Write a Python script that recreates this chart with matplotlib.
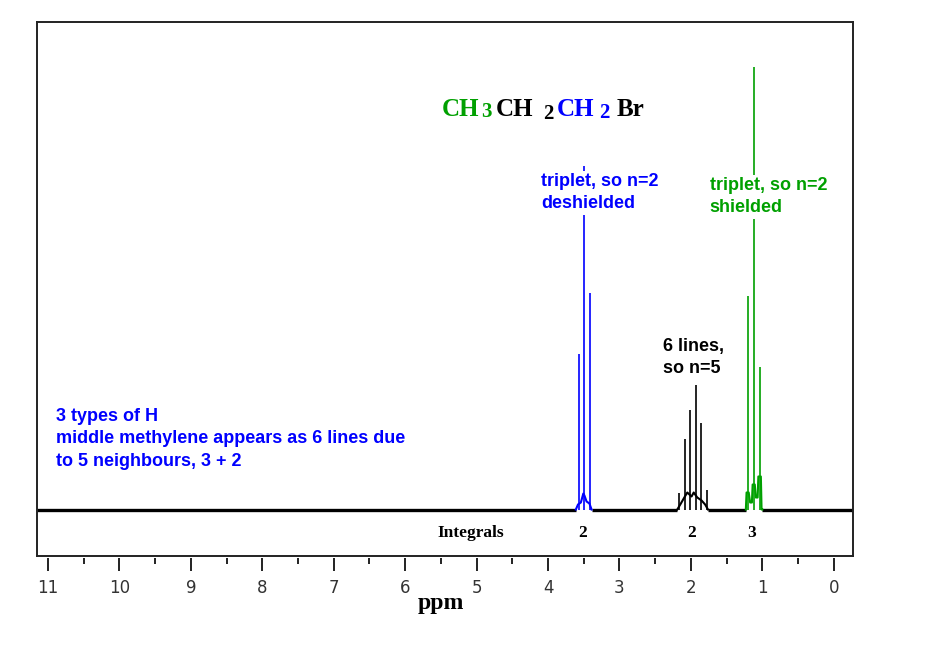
import matplotlib.pyplot as plt
from matplotlib.ticker import FixedLocator

# peak lists: chemical shift (ppm) and intensity (arbitrary units, baseline = 0)
blue_ppm = [3.571, 3.497, 3.417]
blue_h = [156, 344, 217]
blue_env_ppm = [3.61, 3.58, 3.54, 3.505, 3.49, 3.46, 3.42, 3.39]
blue_env_h = [0, 5, 7, 16, 14, 8, 6, 0]

black_ppm = [2.164, 2.088, 2.014, 1.934, 1.860, 1.780]
black_h = [17, 71, 100, 125, 87, 20]
black_env_ppm = [2.19, 2.14, 2.10, 2.05, 1.99, 1.96, 1.91, 1.85, 1.80, 1.76]
black_env_h = [0, 6, 11, 17, 13, 17, 12, 9, 5, 0]

green_ppm = [1.199, 1.123, 1.035]
green_h = [214, 443, 143]
green_env_ppm = [1.23, 1.22, 1.19, 1.17, 1.145, 1.135, 1.105, 1.09, 1.065, 1.055, 1.02, 1.01, 1.0]
green_env_h = [0, 17, 17, 7, 7, 25, 25, 12, 12, 33, 33, 0, 0]

integral_ppm = [3.52, 1.99, 1.15]
integral_txt = ['2', '2', '3']

major_ticks = [0, 1, 2, 3, 4, 5, 6, 7, 8, 9, 10, 11]
minor_ticks = [0.5, 1.5, 2.5, 3.5, 4.5, 5.5, 6.5, 7.5, 8.5, 9.5, 10.5]

xlim = (11.154, -0.27)
ylim = (-46.5, 487.5)

BLUE = '#0000ff'
GREEN = '#00a000'

W, H = 949, 659
fig = plt.figure(figsize=(W / 100, H / 100), dpi=100)
ax = fig.add_axes([37 / W, 1 - 556 / H, (853 - 37) / W, (556 - 22) / H])
ax.set_xlim(*xlim)
ax.set_ylim(*ylim)
ax.set_xticks([])
ax.set_yticks([])
for s in ax.spines.values():
    s.set_linewidth(1.4)
    s.set_color('#222222')

# baseline between the multiplets
edges = [xlim[0], blue_env_ppm[0], blue_env_ppm[-1], black_env_ppm[0],
         black_env_ppm[-1], green_env_ppm[0], green_env_ppm[-1], xlim[1]]
for a, b in zip(edges[::2], edges[1::2]):
    ax.plot([a, b], [0, 0], color='black', lw=2.4, solid_capstyle='butt')

for pp, hh, ep, eh, c in [(blue_ppm, blue_h, blue_env_ppm, blue_env_h, BLUE),
                          (black_ppm, black_h, black_env_ppm, black_env_h, 'black'),
                          (green_ppm, green_h, green_env_ppm, green_env_h, GREEN)]:
    ax.plot(ep, eh, color=c, lw=1.5)
    ax.vlines(pp, 0, hh, color=c, lw=1.2)

# tick marks sit just below the frame
sec = ax.secondary_xaxis(-0.0037)
for s in sec.spines.values():
    s.set_visible(False)
sec.xaxis.set_major_locator(FixedLocator(major_ticks))
sec.xaxis.set_minor_locator(FixedLocator(minor_ticks))
sec.tick_params(which='major', length=9.5, width=1.4, color='#222222', pad=5.5,
                labelsize=12, labelcolor='#333333')
sec.tick_params(which='minor', length=4.5, width=1.4, color='#222222')

sans = dict(family='Liberation Sans', fontweight='bold', fontsize=13)
box = dict(facecolor='white', edgecolor='none', pad=2)

ax.text(4.098, 336, 'triplet, so n=2\ndeshielded', color=BLUE, va='top', ha='left',
        bbox=box, linespacing=1.38, zorder=5, **sans)
ax.text(1.734, 332, 'triplet, so n=2\nshielded', color=GREEN, va='top', ha='left',
        bbox=box, linespacing=1.38, zorder=5, **sans)
ax.text(2.392, 171.5, '6 lines,\nso n=5', color='black', va='top', ha='left',
        linespacing=1.38, zorder=5, **sans)
ax.text(10.895, 101.5, '3 types of H\nmiddle methylene appears as 6 lines due\nto 5 neighbours, 3 + 2',
        color=BLUE, va='top', ha='left', linespacing=1.42, zorder=5, **sans)

serif = dict(family='Liberation Serif', fontweight='bold')
ax.text(5.55, -27.5, 'Integrals', va='baseline', ha='left', fontsize=12.5, **serif)
for p, t in zip(integral_ppm, integral_txt):
    ax.text(p, -27.5, t, va='baseline', ha='center', fontsize=12.5, **serif)


def ftext(px, py, s, **kw):
    fig.text(px / W, 1 - py / H, s, va='baseline', ha='left', **serif, **kw)


ftext(441.7, 116, 'CH', color=GREEN, fontsize=18)
ftext(481, 117, '3', color=GREEN, fontsize=15)
ftext(496, 116, 'CH', color='black', fontsize=18)
ftext(542.7, 119, '2', color='black', fontsize=15)
ftext(556.7, 116, 'CH', color=BLUE, fontsize=18)
ftext(599, 118, '2', color=BLUE, fontsize=15)
ftext(616.7, 116, 'Br', color='black', fontsize=18)

fig.text(441 / W, 1 - 609 / H, 'ppm', va='baseline', ha='center', fontsize=17, **serif)

fig.savefig('out.png', dpi=100)
